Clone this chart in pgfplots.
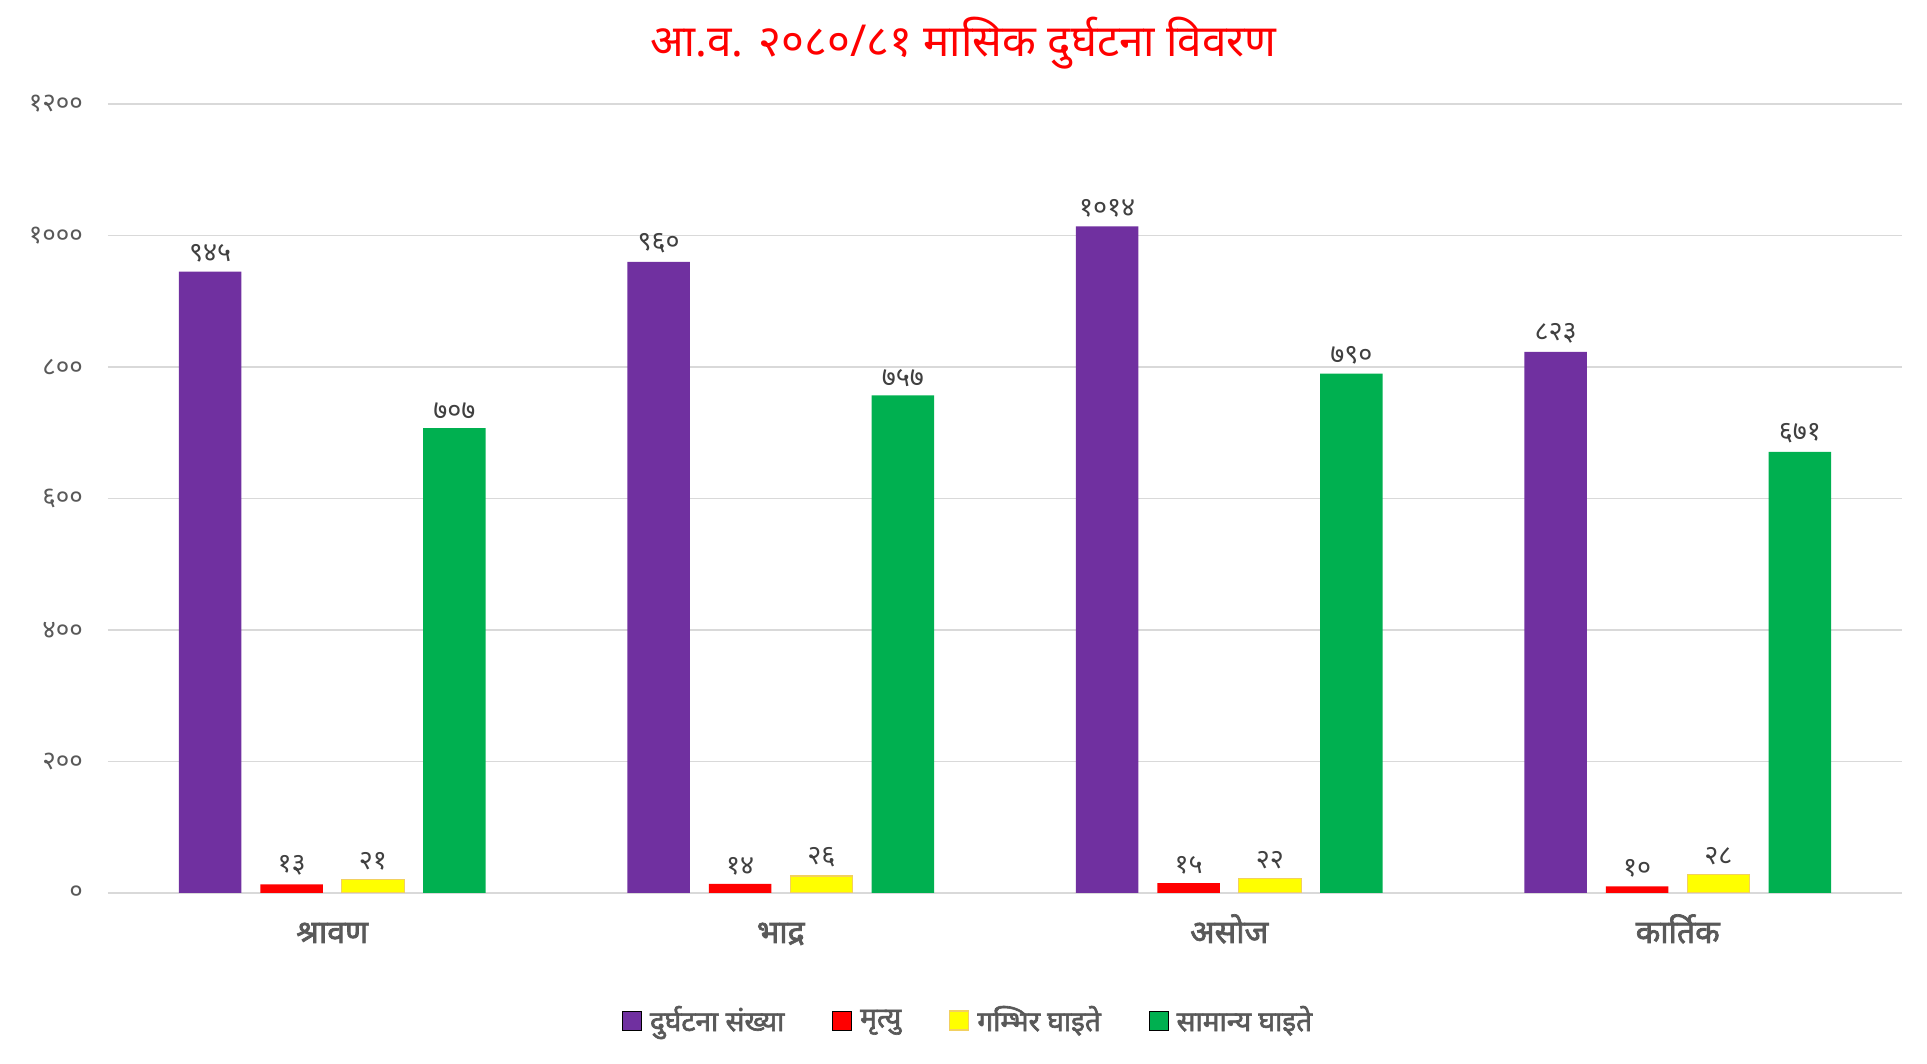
\documentclass[border=0pt]{standalone}
\usepackage{pgfplots}
\pgfplotsset{compat=1.18}
\usepackage{fontspec}
\setmainfont[Script=Devanagari]{Noto Sans}
\newfontfamily\bfdev[Script=Devanagari, FakeBold=2.2]{Noto Sans}
\definecolor{cpurple}{HTML}{7030A0}
\definecolor{cred}{HTML}{FF0000}
\definecolor{cyellow}{HTML}{FFFF00}
\definecolor{cyellowedge}{HTML}{F2D060}
\definecolor{cgreen}{HTML}{00B050}
\definecolor{gridgray}{HTML}{D9D9D9}
\definecolor{ticktext}{HTML}{595959}
\definecolor{labeltext}{HTML}{404040}
\begin{document}
\begin{tikzpicture}
\useasboundingbox (-54pt,-85.5pt) rectangle (909.5pt,446.5pt);
\begin{axis}[
  scale only axis, width=897pt, height=394.5pt,
  ybar=9.4pt, bar width=31.3pt,
  xmin=-0.5, xmax=3.5, ymin=0, ymax=1200,
  xtick={0,1,2,3}, xticklabels={श्रावण,भाद्र,असोज,कार्तिक},
  ytick={0,200,400,600,800,1000,1200},
  yticklabels={०,२००,४००,६००,८००,१०००,१२००},
  ymajorgrids, grid style={draw=gridgray, line width=0.9pt},
  axis line style={draw=none},
  major tick style={draw=none},
  major tick length=0pt,
  yticklabel style={font=\fontsize{13}{15}\selectfont, text=ticktext, xshift=-9pt},
  xticklabel style={font=\fontsize{16}{18}\selectfont\bfdev, text=ticktext, anchor=base, yshift=-25pt},
  nodes near coords, point meta=explicit symbolic,
  every node near coord/.append style={font=\fontsize{13.5}{15}\selectfont, text=labeltext, yshift=1pt},
  legend style={at={(0.48,-0.161)}, anchor=center, legend columns=4, draw=none,
    font=\fontsize{14}{16}\selectfont\bfdev, text=ticktext,
    /tikz/every odd column/.append style={column sep=2pt},
    /tikz/every even column/.append style={column sep=22pt}},
  legend image code/.code={\draw[#1] (0pt,-5pt) rectangle (9.5pt,4.5pt);},
]
\addplot[fill=cpurple, draw=none] coordinates {(0,945) [९४५] (1,960) [९६०] (2,1014) [१०१४] (3,823) [८२३]};
\addplot[fill=cred, draw=none] coordinates {(0,13) [१३] (1,14) [१४] (2,15) [१५] (3,10) [१०]};
\addplot[fill=cyellow, draw=cyellowedge, line width=0.6pt] coordinates {(0,21) [२१] (1,26) [२६] (2,22) [२२] (3,28) [२८]};
\addplot[fill=cgreen, draw=none] coordinates {(0,707) [७०७] (1,757) [७५७] (2,790) [७९०] (3,671) [६७१]};
\legend{दुर्घटना संख्या, मृत्यु, गम्भिर घाइते, सामान्य घाइते}
\end{axis}
\node[text=cred, font=\fontsize{22}{26}\selectfont] at (427.75pt,425pt) {आ.व. २०८०/८१ मासिक दुर्घटना विवरण};
\end{tikzpicture}
\end{document}
